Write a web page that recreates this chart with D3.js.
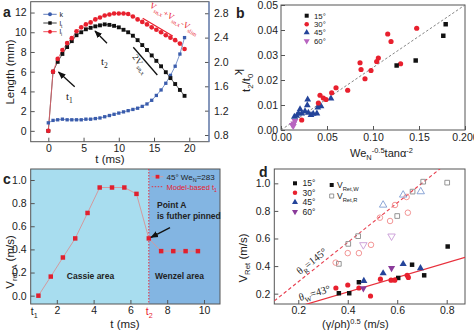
<!DOCTYPE html>
<html>
<head>
<meta charset="utf-8">
<script src="https://cdn.jsdelivr.net/npm/d3@7"></script>
<style>
body { margin: 0; background: #fff; }
text { font-family: "Liberation Sans", Arial, sans-serif; fill: #222; }
.serif { font-family: "Liberation Serif", "Times New Roman", serif; }
</style>
</head>
<body>
<svg id="fig" width="474" height="334"></svg>
<script>
// ---- panel a: lengths and k against time ----
const tA = [0, 0.67, 1.33, 2, 2.67, 3.33, 4, 4.67, 5.33, 6, 6.67, 7.33, 8, 8.67, 9.33,
            10, 10.67, 11.33, 12, 12.67, 13.33, 14, 14.67, 15.33, 16, 16.67, 17.33, 18, 18.67, 19.33];
const kA = [1.0, 1.04, 1.05, 1.06, 1.05, 1.05, 1.05, 1.05, 1.06, 1.06, 1.07, 1.08, 1.10, 1.12, 1.14,
            1.16, 1.18, 1.20, 1.22, 1.24, 1.27, 1.31, 1.37, 1.45, 1.54, 1.65, 1.78, 1.93, 2.13, 2.40];
const ltA = [0, 6.0, 7.0, 7.8, 8.5, 9.1, 9.7, 10.0, 10.3, 10.45, 10.6, 10.7, 10.8, 10.75, 10.65,
             10.5, 10.25, 10.0, 9.65, 9.2, 8.7, 8.2, 7.65, 7.1, 6.55, 5.95, 5.35, 4.75, 4.15, 3.55];
const liA = [0, 6.0, 7.3, 8.2, 8.9, 9.4, 10.1, 10.5, 10.8, 11.0, 11.3, 11.5, 11.7, 11.8, 11.9,
             11.9, 11.9, 11.85, 11.6, 11.3, 11.05, 10.8, 10.5, 10.25, 10.0, 9.7, 9.45, 9.2, 8.85, 8.3];
const ticksA = [0, 5, 10, 15, 20];
const ticksLenA = [0, 2, 4, 6, 8, 10, 12];
const ticksKA = [0.8, 1.2, 1.6, 2.0, 2.4, 2.8];

// ---- panel b: scaled time vs We_N^-0.5 tan^-2 ----
const b15 = [[0.1257, 0.0258], [0.1464, 0.0278], [0.1764, 0.0377], [0.179, 0.0423]];
const b30 = [[0.0225, 0.004], [0.0406, 0.0108], [0.0424, 0.0139], [0.046, 0.0128], [0.0489, 0.0122],
             [0.0551, 0.0149], [0.0598, 0.0169], [0.0725, 0.0159], [0.0859, 0.0269], [0.087, 0.0242],
             [0.0913, 0.0205], [0.0978, 0.0238], [0.104, 0.0274], [0.1058, 0.0288], [0.116, 0.0384],
             [0.1196, 0.0354], [0.130, 0.0265], [0.1475, 0.0407]];
const b45 = [[0.0145, 0.0053], [0.017, 0.0057], [0.019, 0.0066], [0.0207, 0.0083], [0.0225, 0.0066],
             [0.0261, 0.0075], [0.0286, 0.0099], [0.029, 0.0122], [0.0297, 0.0069], [0.0326, 0.006],
             [0.035, 0.0065], [0.039, 0.0066], [0.04, 0.009], [0.0417, 0.0102], [0.0435, 0.0095],
             [0.0543, 0.0126]];
const b60 = [[0.0123, 0.002], [0.0134, 0.0016], [0.0138, 0.0026], [0.0152, 0.0036]];
const bSlope = 0.25;
const ticksXB = [0, 0.05, 0.10, 0.15, 0.20];
const ticksYB = [0, 0.01, 0.02, 0.03, 0.04, 0.05];

// ---- panel c: retraction speed of point A ----
const tC = [1.0, 1.67, 2.33, 3.0, 3.67, 4.33, 5.0, 5.67, 6.33, 7.0, 7.67, 8.33, 9.0, 9.67];
const vC = [0.0, 0.165, 0.33, 0.495, 0.715, 0.935, 0.935, 0.935, 0.88, 0.495, 0.385, 0.385, 0.385, 0.385];
const t1C = 0.8, t2C = 7.0;
const ticksXC = [2, 4, 6, 8, 10];
const ticksYC = [0, 0.2, 0.4, 0.6, 0.8, 1.0];

// ---- panel d: retraction velocity, filled = W, hollow = R ----
const dW15 = [[0.364, 0.203], [0.406, 0.203], [0.445, 0.283], [0.604, 0.314], [0.66, 0.41], [0.709, 0.333], [0.804, 0.542]];
const dW30 = [[0.352, 0.241], [0.40, 0.263], [0.445, 0.241], [0.492, 0.183], [0.532, 0.305], [0.575, 0.298],
              [0.59, 0.298], [0.64, 0.333], [0.645, 0.318]];
const dW45 = [[0.465, 0.292], [0.543, 0.348], [0.624, 0.415], [0.694, 0.385]];
const dW60 = [[0.463, 0.239], [0.577, 0.385]];
const dR15 = [[0.364, 0.416], [0.402, 0.561], [0.442, 0.617], [0.6, 0.763], [0.662, 0.94], [0.705, 1.012], [0.802, 1.005]];
const dR30 = [[0.351, 0.425], [0.4, 0.494], [0.445, 0.494], [0.494, 0.554], [0.53, 0.751], [0.571, 0.727],
              [0.591, 0.843], [0.638, 0.901], [0.643, 0.787]];
const dR45 = [[0.543, 0.843], [0.624, 0.916], [0.695, 0.94]];
const dR60 = [[0.463, 0.554], [0.577, 0.617]];
const slopeW = 0.53, slopeR = 1.43;
const ticksXD = [0.2, 0.4, 0.6, 0.8];
const ticksYD = [0.2, 0.4, 0.6, 0.8, 1.0];

const svg = d3.select("#fig");
const FRAME = "#555";

// text with sub/superscript pieces: parts = [[str, "sub"|"sup"|null], ...]
function rich(t, parts, base) {
  let off = 0;
  parts.forEach(([s, k]) => {
    const target = k === "sub" ? 0.3 * base : k === "sup" ? -0.4 * base : 0;
    t.append("tspan").attr("dy", target - off)
      .attr("font-size", k ? base * 0.68 : base).text(s);
    off = target;
  });
  return t;
}

function styleAxis(g, size) {
  g.select(".domain").remove();
  g.selectAll(".tick line").attr("stroke", FRAME);
  g.selectAll(".tick text").attr("font-size", size || 10.5).attr("fill", "#222");
}

const symType = { sq: d3.symbolSquare, ci: d3.symbolCircle, up: d3.symbolTriangle, dn: d3.symbolTriangle };
function marks(g, pts, xs, ys, type, size, fill, stroke) {
  g.append("g").selectAll("path").data(pts).join("path")
    .attr("d", d3.symbol(symType[type], size))
    .attr("transform", d => `translate(${xs(d[0])},${ys(d[1])})` + (type === "dn" ? " rotate(180)" : ""))
    .attr("fill", fill)
    .attr("stroke", stroke || "none")
    .attr("stroke-width", 0.9);
}

function frame(g, xs, ys) {
  const [x0, x1] = xs.range(), [y0, y1] = ys.range();
  g.append("rect").attr("x", x0).attr("y", y1).attr("width", x1 - x0).attr("height", y0 - y1)
    .attr("fill", "none").attr("stroke", FRAME).attr("stroke-width", 1);
}

const defs = svg.append("defs");
defs.append("marker").attr("id", "arr").attr("viewBox", "0 0 10 10")
  .attr("refX", 9).attr("refY", 5).attr("markerWidth", 6).attr("markerHeight", 6)
  .attr("orient", "auto")
  .append("path").attr("d", "M0,1 L10,5 L0,9 Z").attr("fill", "#111");

function arrow(g, x1, y1, x2, y2) {
  g.append("line").attr("x1", x1).attr("y1", y1).attr("x2", x2).attr("y2", y2)
    .attr("stroke", "#111").attr("stroke-width", 1.3).attr("marker-end", "url(#arr)");
}

// ================= panel a =================
const gA = svg.append("g");
const xA = d3.scaleLinear([-2.5, 22.8], [30.7, 209]);
const yA = d3.scaleLinear([-1.1, 13.1], [141.7, 1.7]);
const kS = d3.scaleLinear([0.69, 2.99], [141.7, 1.7]);

gA.append("g").attr("transform", "translate(0,141.7)")
  .call(d3.axisBottom(xA).tickValues(ticksA).tickSize(-4).tickPadding(3)).call(styleAxis);
gA.append("g").attr("transform", "translate(30.7,0)")
  .call(d3.axisLeft(yA).tickValues(ticksLenA).tickSize(-4).tickPadding(4)).call(styleAxis);
gA.append("g").attr("transform", "translate(209,0)")
  .call(d3.axisRight(kS).tickValues(ticksKA).tickFormat(d3.format(".1f")).tickSize(-4).tickPadding(5))
  .call(styleAxis);
frame(gA, xA, yA);
gA.append("line").attr("x1", 209).attr("x2", 209).attr("y1", 1.7).attr("y2", 141.7)
  .attr("stroke", "#6f8cc8").attr("stroke-width", 1.2);

const lineA = (sc, vals) => d3.line().x((d, i) => xA(tA[i])).y(d => sc(d))(vals);
gA.append("path").attr("d", lineA(kS, kA)).attr("fill", "none").attr("stroke", "#5a7cc0").attr("stroke-width", 0.8);
gA.append("path").attr("d", lineA(yA, ltA)).attr("fill", "none").attr("stroke", "#333").attr("stroke-width", 0.8);
gA.append("path").attr("d", lineA(yA, liA)).attr("fill", "none").attr("stroke", "#e8606a").attr("stroke-width", 0.8);
marks(gA, kA.map((v, i) => [tA[i], v]), xA, kS, "sq", 11, "#3a5cac");
marks(gA, ltA.map((v, i) => [tA[i], v]), xA, yA, "sq", 15, "#111");
marks(gA, liA.map((v, i) => [tA[i], v]), xA, yA, "ci", 17, "#e8202e");

// legend
const legA = [["k", null, "#3a5cac", "ci"], ["l", "t", "#111", "sq"], ["l", "i", "#e8202e", "ci"]];
const legAy = d3.scaleLinear([0, 2], [14.3, 31.7]);
legA.forEach((d, i) => {
  const y = legAy(i);
  gA.append("line").attr("x1", 43.3).attr("x2", 56.7).attr("y1", y).attr("y2", y)
    .attr("stroke", d[2]).attr("stroke-width", 0.8);
  gA.append("path").attr("d", d3.symbol(symType[d[3]], 12)).attr("transform", `translate(50,${y})`).attr("fill", d[2]);
  const t = gA.append("text").attr("x", 59.5).attr("y", y + 2.5);
  rich(t, d[1] ? [[d[0], null], [d[1], "sub"]] : [[d[0], null]], 7);
});

// t1 / t2 annotations
arrow(gA, 74.7, 86.7, 58.5, 72);
arrow(gA, 107, 43.3, 95, 31);
rich(gA.append("text").attr("class", "serif").attr("x", 66).attr("y", 100), [["t", null], ["1", "sub"]], 11);
rich(gA.append("text").attr("class", "serif").attr("x", 101).attr("y", 65), [["t", null], ["2", "sub"]], 11);

// slope guides
gA.append("line").attr("x1", 133.3).attr("y1", 47.3).attr("x2", 157.3).attr("y2", 75)
  .attr("stroke", "#111").attr("stroke-width", 1.3);
rich(gA.append("text").attr("class", "serif").attr("transform", "translate(132,57) rotate(55)"),
  [["2V", null], ["sn,x", "sub"]], 9);
gA.append("line").attr("x1", 142.7).attr("y1", 18.3).attr("x2", 172.7).attr("y2", 36)
  .attr("stroke", "#e8202e").attr("stroke-width", 1.2);
rich(gA.append("text").attr("class", "serif").attr("transform", "translate(149,7) rotate(30)")
  .style("fill", "#e8202e"),
  [["V", null], ["sn,x", "sub"], ["+V", null], ["sn,x", "sub"], ["-V", null], ["slim", "sub"]], 8.5)
  .selectAll("tspan").style("fill", "#e8202e");

gA.append("text").attr("x", 3).attr("y", 17).attr("font-size", 14).attr("font-weight", "bold").text("a");
gA.append("text").attr("x", 110).attr("y", 163).attr("text-anchor", "middle").attr("font-size", 11.5).text("t (ms)");
gA.append("text").attr("transform", "translate(14,72) rotate(-90)").attr("text-anchor", "middle")
  .attr("font-size", 11.5).text("Length (mm)");
gA.append("text").attr("transform", "translate(235,72) rotate(90)").attr("text-anchor", "middle")
  .attr("font-size", 12).text("k");

// ================= panel b =================
const gB = svg.append("g");
const xB = d3.scaleLinear([0, 0.2], [281, 465]);
const yB = d3.scaleLinear([0, 0.05], [130, 5]);
gB.append("g").attr("transform", "translate(0,130)")
  .call(d3.axisBottom(xB).tickValues(ticksXB).tickSize(-4).tickPadding(4)
    .tickFormat(d => d === 0.2 ? "0.200" : d3.format(".2f")(d))).call(styleAxis);
gB.append("g").attr("transform", "translate(281,0)")
  .call(d3.axisLeft(yB).tickValues(ticksYB).tickSize(-4).tickPadding(3).tickFormat(d3.format(".2f")))
  .call(styleAxis);
frame(gB, xB, yB);
gB.append("line").attr("x1", xB(0)).attr("y1", yB(0)).attr("x2", xB(0.2)).attr("y2", yB(bSlope * 0.2))
  .attr("stroke", "#777").attr("stroke-width", 0.9).attr("stroke-dasharray", "2.5,2");
marks(gB, b60, xB, yB, "dn", 20, "#b864c0");
marks(gB, b45, xB, yB, "up", 20, "#24449a");
marks(gB, b30, xB, yB, "ci", 21, "#e8202e");
marks(gB, b15, xB, yB, "sq", 20, "#111");

const legB = [["15°", "sq", "#111"], ["30°", "ci", "#e8202e"], ["45°", "up", "#24449a"], ["60°", "dn", "#b864c0"]];
const legBy = d3.scaleLinear([0, 3], [15.7, 41]);
legB.forEach((d, i) => {
  const y = legBy(i);
  gB.append("path").attr("d", d3.symbol(symType[d[1]], 16))
    .attr("transform", `translate(306.7,${y})` + (d[1] === "dn" ? " rotate(180)" : "")).attr("fill", d[2]);
  gB.append("text").attr("x", 314).attr("y", y + 2.8).attr("font-size", 7.8).text(d[0]);
});
gB.append("text").attr("x", 236).attr("y", 18).attr("font-size", 14).attr("font-weight", "bold").text("b");
rich(gB.append("text").attr("x", 350).attr("y", 157).attr("font-size", 11),
  [["We", null], ["N", "sub"], ["-0.5", "sup"], ["tanα", null], ["-2", "sup"]], 11);
rich(gB.append("text").attr("transform", "translate(250,92) rotate(-90)"),
  [["t", null], ["2", "sub"], ["/t", null], ["0", "sub"]], 11.5);

// ================= panel c =================
const gC = svg.append("g");
const xC = d3.scaleLinear([0.58, 10.87], [30.7, 220]);
const yC = d3.scaleLinear([-0.072, 1.095], [304, 169]);
gC.append("rect").attr("x", xC.range()[0]).attr("y", 169).attr("width", xC(t2C) - xC.range()[0]).attr("height", 135)
  .attr("fill", "#a8ddef");
gC.append("rect").attr("x", xC(t2C)).attr("y", 169).attr("width", xC.range()[1] - xC(t2C)).attr("height", 135)
  .attr("fill", "#83b5e2");
gC.append("g").attr("transform", "translate(0,304)")
  .call(d3.axisBottom(xC).tickValues(ticksXC).tickSize(-4).tickPadding(3)).call(styleAxis);
gC.append("g").attr("transform", "translate(30.7,0)")
  .call(d3.axisLeft(yC).tickValues(ticksYC).tickSize(-4).tickPadding(4).tickFormat(d3.format(".1f")))
  .call(styleAxis);
frame(gC, xC, yC);
rich(gC.append("text").attr("x", xC(t1C) - 4).attr("y", 314.5), [["t", null], ["1", "sub"]], 10.5);
rich(gC.append("text").attr("x", xC(t2C) - 3).attr("y", 314.5).style("fill", "#e8202e"),
  [["t", null], ["2", "sub"]], 10.5).selectAll("tspan").style("fill", "#e8202e");
gC.append("line").attr("x1", xC(t2C)).attr("x2", xC(t2C)).attr("y1", 169).attr("y2", 304)
  .attr("stroke", "#e03040").attr("stroke-width", 1).attr("stroke-dasharray", "1.5,1.5");
gC.append("path").attr("d", d3.line().x((d, i) => xC(tC[i])).y(d => yC(d))(vC))
  .attr("fill", "none").attr("stroke", "#d39a9e").attr("stroke-width", 1);
marks(gC, vC.map((v, i) => [tC[i], v]), xC, yC, "sq", 20, "#e0202e");

// legend
gC.append("line").attr("x1", 151.7).attr("x2", 163.3).attr("y1", 176.7).attr("y2", 176.7)
  .attr("stroke", "#d39a9e").attr("stroke-width", 1);
gC.append("path").attr("d", d3.symbol(d3.symbolSquare, 14)).attr("transform", "translate(157.5,176.7)").attr("fill", "#e0202e");
rich(gC.append("text").attr("x", 166.5).attr("y", 179.5), [["45° We", null], ["N", "sub"], ["=283", null]], 8);
gC.append("line").attr("x1", 151.7).attr("x2", 163.3).attr("y1", 186.7).attr("y2", 186.7)
  .attr("stroke", "#e03040").attr("stroke-width", 1).attr("stroke-dasharray", "1.5,1.5");
rich(gC.append("text").attr("x", 166.5).attr("y", 189.5), [["Model-based  t", null], ["1", "sub"]], 7.5)
  .selectAll("tspan").style("fill", "#e8202e");

gC.append("text").attr("x", 157).attr("y", 207.5).attr("font-size", 8.5).attr("font-weight", "bold").text("Point A");
gC.append("text").attr("x", 157).attr("y", 219).attr("font-size", 8.5).attr("font-weight", "bold").text("is futher pinned");
arrow(gC, 170, 227.7, 151, 237.3);
gC.append("text").attr("x", 90.5).attr("y", 279).attr("text-anchor", "middle").attr("font-size", 8.5)
  .attr("font-weight", "bold").text("Cassie area");
gC.append("text").attr("x", 155).attr("y", 279).attr("font-size", 8.5).attr("font-weight", "bold").text("Wenzel area");

gC.append("text").attr("x", 3).attr("y", 184).attr("font-size", 14).attr("font-weight", "bold").text("c");
gC.append("text").attr("x", 125).attr("y", 328).attr("text-anchor", "middle").attr("font-size", 11.5).text("t (ms)");
rich(gC.append("text").attr("transform", "translate(14,262) rotate(-90)").attr("text-anchor", "middle"),
  [["V", null], ["ret,A", "sub"], [" (m/s)", null]], 11.5);

// ================= panel d =================
const gD = svg.append("g");
const xD = d3.scaleLinear([0.103, 0.874], [274.3, 465]);
const yD = d3.scaleLinear([0.125, 1.104], [304, 169]);
gD.append("g").attr("transform", "translate(0,304)")
  .call(d3.axisBottom(xD).tickValues(ticksXD).tickSize(-4).tickPadding(3).tickFormat(d3.format(".1f")))
  .call(styleAxis);
gD.append("g").attr("transform", "translate(274.3,0)")
  .call(d3.axisLeft(yD).tickValues(ticksYD).tickSize(-4).tickPadding(4).tickFormat(d3.format(".1f")))
  .call(styleAxis);
frame(gD, xD, yD);

// fitted lines, clipped to the frame
gD.append("clipPath").attr("id", "clipD").append("rect")
  .attr("x", 274.3).attr("y", 169).attr("width", 190.7).attr("height", 135);
const fitD = gD.append("g").attr("clip-path", "url(#clipD)");
const [dx0, dx1] = xD.domain();
fitD.append("line").attr("x1", xD(dx0)).attr("y1", yD(slopeR * dx0)).attr("x2", xD(dx1)).attr("y2", yD(slopeR * dx1))
  .attr("stroke", "#e84050").attr("stroke-width", 1.1).attr("stroke-dasharray", "3.5,2.5");
fitD.append("line").attr("x1", xD(dx0)).attr("y1", yD(slopeW * dx0)).attr("x2", xD(dx1)).attr("y2", yD(slopeW * dx1))
  .attr("stroke", "#e8303c").attr("stroke-width", 1.2);

marks(gD, dR15, xD, yD, "sq", 22, "none", "#8a8a8a");
marks(gD, dR30, xD, yD, "ci", 24, "none", "#f08a8a");
marks(gD, dR45, xD, yD, "up", 24, "none", "#7f9cd2");
marks(gD, dR60, xD, yD, "dn", 24, "none", "#c89ad6");
marks(gD, dW15, xD, yD, "sq", 20, "#111");
marks(gD, dW30, xD, yD, "ci", 21, "#e8202e");
marks(gD, dW45, xD, yD, "up", 22, "#24449a");
marks(gD, dW60, xD, yD, "dn", 22, "#8a3a9a");

const angle = s => Math.atan2(yD(s * 0.6) - yD(s * 0.3), xD(0.6) - xD(0.3)) * 180 / Math.PI;
rich(gD.append("text").attr("class", "serif").attr("transform", `translate(300,275) rotate(${angle(slopeR)})`),
  [["θ", null], ["R", "sub"], ["=145°", null]], 10.5);
rich(gD.append("text").attr("class", "serif").attr("transform", `translate(300,301) rotate(${angle(slopeW)})`),
  [["θ", null], ["W", "sub"], ["=43°", null]], 10.5);

const legD = [["15°", "sq", "#111"], ["30°", "ci", "#e8202e"], ["45°", "up", "#24449a"], ["60°", "dn", "#8a3a9a"]];
const legDy = d3.scaleLinear([0, 3], [183.3, 211.7]);
legD.forEach((d, i) => {
  const y = legDy(i);
  gD.append("path").attr("d", d3.symbol(symType[d[1]], 16))
    .attr("transform", `translate(295,${y})` + (d[1] === "dn" ? " rotate(180)" : "")).attr("fill", d[2]);
  gD.append("text").attr("x", 302.5).attr("y", y + 3).attr("font-size", 8.5).text(d[0]);
});
gD.append("path").attr("d", d3.symbol(d3.symbolSquare, 16)).attr("transform", "translate(331.7,185)").attr("fill", "#111");
gD.append("path").attr("d", d3.symbol(d3.symbolSquare, 16)).attr("transform", "translate(331.7,196)")
  .attr("fill", "none").attr("stroke", "#8a8a8a").attr("stroke-width", 0.9);
rich(gD.append("text").attr("x", 337).attr("y", 188), [["V", null], ["Ret,W", "sub"]], 8.5);
rich(gD.append("text").attr("x", 337).attr("y", 199), [["V", null], ["Ret,R", "sub"]], 8.5);

gD.append("text").attr("x", 259).attr("y", 177).attr("font-size", 14).attr("font-weight", "bold").text("d");
rich(gD.append("text").attr("x", 322).attr("y", 328), [["(γ/ρh)", null], ["0.5", "sup"], ["  (m/s)", null]], 11);
rich(gD.append("text").attr("transform", "translate(247,258) rotate(-90)").attr("text-anchor", "middle"),
  [["V", null], ["Ret", "sub"], ["  (m/s)", null]], 11.5);
</script>
</body>
</html>
